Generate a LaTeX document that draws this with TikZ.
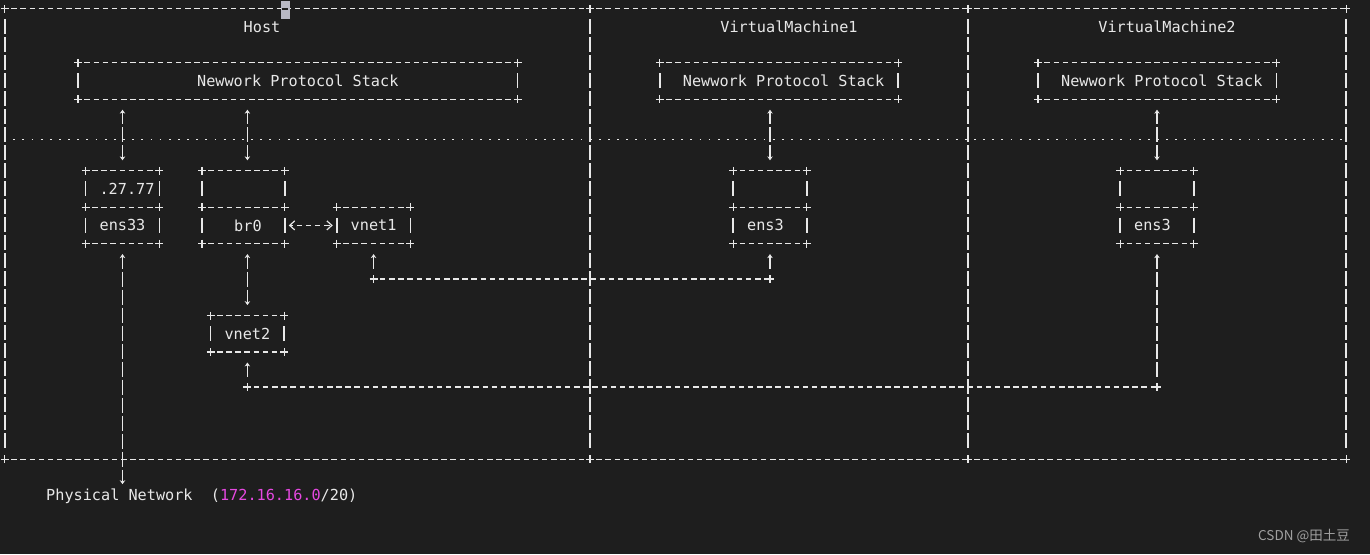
\documentclass[tikz,border=0pt]{standalone}
\usepackage{fontspec}
\usetikzlibrary{arrows.meta,positioning,calc}
\newfontfamily\termfont{DejaVu Sans Mono}
\newfontfamily\cjkfont{Noto Sans CJK SC}
\definecolor{termbg}{HTML}{1E1E1E}
\definecolor{termfg}{HTML}{E8E8E8}
\definecolor{ipcolor}{HTML}{E548E0}
\definecolor{marktext}{HTML}{A0A0A0}
\definecolor{cursorgrey}{HTML}{B8B8C4}

\tikzset{
  every node/.style={font=\termfont\fontsize{15.2}{18}\selectfont, text=termfg, inner sep=0pt},
  dashrule/.style={draw=termfg, line width=1.2pt, dash pattern=on 5.5pt off 3.65pt, dash phase=2.75pt},
  barrule/.style={draw=termfg, line width=1.5pt, dash pattern=on 15pt off 3pt},
  dotrule/.style={draw=termfg, line width=1.8pt, dash pattern=on 1.8pt off 7.35pt, dash phase=0.9pt},
  plusmark/.style={draw=termfg, line width=1.2pt},
  cellbox/.style={minimum width=#1, minimum height=36pt},
  framebox/.style={minimum width=#1, minimum height=450pt},
  updown/.style={barrule, <->, shorten <=10.5pt, shorten >=10.5pt, dash phase=3pt},
  upto/.style={barrule, ->, shorten <=10.5pt, shorten >=10.5pt},
  sidelink/.style={dashrule, {Straight Barb[length=5pt,width=9pt]}-{Straight Barb[length=5pt,width=9pt]}, shorten <=4pt, shorten >=4pt}
}

\begin{document}
\begin{tikzpicture}[x=1pt, y=-1pt, >={Stealth[length=4pt,width=5.5pt]}]
\fill[termbg] (0,0) rectangle (1370,554);

\node[framebox=585pt] (hostframe) at (297.5,234) {};
\node[framebox=378pt] (vm1frame) at (779,234) {};
\node[framebox=378pt] (vm2frame) at (1157,234) {};
\node (hosttitle) at (262,27) {Host};
\node (vm1title) at (789,27) {VirtualMachine1};
\node (vm2title) at (1167,27) {VirtualMachine2};

\node[cellbox=439.2pt] (hoststack) at (297.8,81) {Newwork Protocol Stack};
\node[cellbox=237.9pt] (vm1stack) at (779,81) {\hspace*{9.15pt}Newwork Protocol Stack};
\node[cellbox=237.9pt] (vm2stack) at (1157.2,81) {\hspace*{9.15pt}Newwork Protocol Stack};

\node[cellbox=73.2pt, text width=64pt, align=right] (ens33ip) at (122.5,189) {.27.77};
\node[cellbox=73.2pt, below=0pt of ens33ip] (ens33) {ens33};
\node[cellbox=82.35pt] (br0top) at (243.4,189) {};
\node[cellbox=82.35pt, below=0pt of br0top, text width=36.6pt, align=right] (br0) {br0};
\node[cellbox=73.2pt, right=52pt of br0] (vnet1) {vnet1};
\node[cellbox=73.2pt, below=72pt of br0, xshift=4pt] (vnet2) {vnet2};
\node[cellbox=73.2pt] (vm1ens3top) at (770,189) {};
\node[cellbox=73.2pt, below=0pt of vm1ens3top, text width=45.8pt, align=left] (vm1ens3) {ens3};
\node[cellbox=73.2pt] (vm2ens3top) at (1157,189) {};
\node[cellbox=73.2pt, below=0pt of vm2ens3top, text width=45.8pt, align=left] (vm2ens3) {ens3};

\node[anchor=base west] (phynet) at (46,500) {Physical Network\ \ (\textcolor{ipcolor}{172.16.16.0}/20)};
\node[font=\cjkfont\fontsize{13.5}{14}\selectfont, text=marktext] (mark) at (1304,536) {CSDN @田土豆};

\foreach \b in {hostframe,vm1frame,vm2frame,hoststack,vm1stack,vm2stack,ens33ip,ens33,br0top,br0,vnet1,vnet2,vm1ens3top,vm1ens3,vm2ens3top,vm2ens3} {
  \draw[dashrule] (\b.north west) -- (\b.north east);
  \draw[dashrule] (\b.south west) -- (\b.south east);
  \draw[barrule, shorten <=10.5pt, shorten >=10.5pt] (\b.north west) -- (\b.south west);
  \draw[barrule, shorten <=10.5pt, shorten >=10.5pt] (\b.north east) -- (\b.south east);
  \foreach \corner in {north west,north east,south west,south east}
    \draw[plusmark] (\b.\corner) +(-4,0) -- +(4,0) +(0,-4) -- +(0,4);
}

\draw[dotrule] (5,139.5) -- (1346,139.5);

\draw[updown] (hoststack.south -| ens33ip.north) -- (ens33ip.north);
\draw[updown] (hoststack.south -| vnet2.north) -- (br0top.north -| vnet2.north);
\draw[updown] (br0.south -| vnet2.north) -- (vnet2.north);
\draw[updown] (vm1stack.south -| vm1ens3top.north) -- (vm1ens3top.north);
\draw[updown] (vm2stack.south -| vm2ens3top.north) -- (vm2ens3top.north);
\draw[updown, shorten >=4pt] (ens33.south) -- (ens33.south |- phynet.north);
\draw[sidelink] (br0) -- (vnet1);

\coordinate (busa) at (0,279);
\coordinate (busb) at (0,387);
\draw[dashrule] (vnet1.south |- busa) -- (vm1ens3.south |- busa);
\draw[upto] (vnet1.south |- busa) -- (vnet1.south);
\draw[upto] (vm1ens3.south |- busa) -- (vm1ens3.south);
\draw[dashrule] (vnet2.south |- busb) -- (vm2ens3.south |- busb);
\draw[upto] (vnet2.south |- busb) -- (vnet2.south);
\draw[upto] (vm2ens3.south |- busb) -- (vm2ens3.south);
\foreach \p in {vnet1,vm1ens3}
  \draw[plusmark] (\p.south |- busa) +(-4,0) -- +(4,0) +(0,-4) -- +(0,4);
\foreach \p in {vnet2,vm2ens3}
  \draw[plusmark] (\p.south |- busb) +(-4,0) -- +(4,0) +(0,-4) -- +(0,4);

\fill[cursorgrey] (280.5,0.5) rectangle (289.5,18.5);
\draw[termbg, line width=1.2pt] (282.3,9) -- (287.7,9);
\end{tikzpicture}
\end{document}
